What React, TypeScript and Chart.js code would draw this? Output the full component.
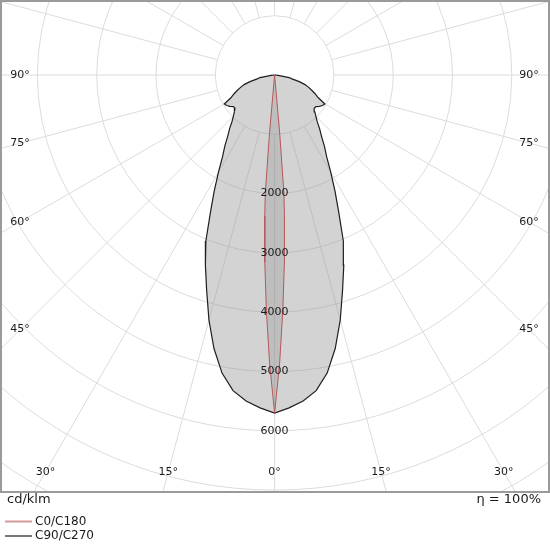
import React, { useEffect, useRef } from "react";
import { Chart, registerables } from "chart.js";

Chart.register(...registerables);

// ---- data ----
const seriesLabels = ["C0/C180", "C90/C270"];

const gammaC0 = [0, 1, 2, 3, 4, 4.5, 5, 5.5];
const intensityC0 = [5700, 4860, 3970, 3160, 2380, 2000, 1000, 0];

const gammaC90 = [
  0, 2.5, 5, 7.5, 10, 12.5, 15, 17.5, 20, 22.5, 25, 27.5, 30, 32.5, 35, 37.5, 40,
  42.5, 45, 47.5, 50, 52.5, 55, 57.5, 60, 62.5, 65, 67.5, 70, 72.5, 75, 77.5, 80,
  85, 90,
];
const intensityC90 = [
  5700, 5618, 5519, 5368, 5104, 4724, 4278, 3810, 3412, 3029, 2562, 2206, 1893,
  1633, 1464, 1298, 1180, 1062, 985, 920, 872, 876, 921, 958, 979, 831, 757, 683,
  611, 539, 430, 300, 250, 60, 0,
];

const ringValues = [1000, 2000, 3000, 4000, 5000, 6000, 7000, 8000, 9000, 10000];
const ringLabelValues = [2000, 3000, 4000, 5000, 6000];
const angleTickLabels = [0, 15, 30, 45, 60, 75, 90];
const rayStep = 15;
const unitLabel = "cd/klm";
const efficiencyLabel = "η = 100%";

const FONT = '"DejaVu Sans", Verdana, sans-serif';

function toShape(gammas: number[], values: number[]) {
  const pts: { x: number; y: number }[] = [];
  for (let i = gammas.length - 1; i >= 0; i--) {
    const g = (gammas[i] * Math.PI) / 180;
    pts.push({ x: -values[i] * Math.sin(g), y: -values[i] * Math.cos(g) });
  }
  for (let i = 1; i < gammas.length; i++) {
    const g = (gammas[i] * Math.PI) / 180;
    pts.push({ x: values[i] * Math.sin(g), y: -values[i] * Math.cos(g) });
  }
  return pts;
}

const polarGridPlugin = {
  id: "polarGrid",
  beforeDatasetsDraw(chart: any) {
    const { ctx, chartArea, scales } = chart;
    const cx = scales.x.getPixelForValue(0);
    const cy = scales.y.getPixelForValue(0);
    const k = scales.x.getPixelForValue(1000) - cx;
    ctx.save();
    ctx.beginPath();
    ctx.rect(chartArea.left, chartArea.top, chartArea.right - chartArea.left, chartArea.bottom - chartArea.top);
    ctx.clip();
    ctx.strokeStyle = "#dcdcdc";
    ctx.lineWidth = 1;
    for (const v of ringValues) {
      ctx.beginPath();
      ctx.arc(cx, cy, (v / 1000) * k, 0, Math.PI * 2);
      ctx.stroke();
    }
    const r0 = (ringValues[0] / 1000) * k;
    const r1 = 12 * k;
    for (let a = 0; a < 360; a += rayStep) {
      const t = (a * Math.PI) / 180;
      const sx = Math.sin(t);
      const sy = Math.cos(t);
      ctx.beginPath();
      ctx.moveTo(cx + r0 * sx, cy + r0 * sy);
      ctx.lineTo(cx + r1 * sx, cy + r1 * sy);
      ctx.stroke();
    }
    ctx.restore();
  },
};

const polarFillPlugin = {
  id: "polarFill",
  beforeDatasetDraw(chart: any, args: any) {
    const ds: any = chart.data.datasets[args.index];
    const pts = args.meta.data;
    if (!pts || !pts.length) return;
    const { ctx, chartArea } = chart;
    ctx.save();
    ctx.beginPath();
    ctx.rect(chartArea.left, chartArea.top, chartArea.right - chartArea.left, chartArea.bottom - chartArea.top);
    ctx.clip();
    ctx.beginPath();
    pts.forEach((p: any, i: number) => (i ? ctx.lineTo(p.x, p.y) : ctx.moveTo(p.x, p.y)));
    ctx.closePath();
    ctx.fillStyle = ds.shapeFill;
    ctx.fill();
    ctx.restore();
  },
};

const labelsPlugin = {
  id: "polarLabels",
  afterDatasetsDraw(chart: any) {
    const { ctx, chartArea, scales } = chart;
    const cx = scales.x.getPixelForValue(0);
    const cy = scales.y.getPixelForValue(0);
    const k = scales.x.getPixelForValue(1000) - cx;
    ctx.save();
    ctx.fillStyle = "#1a1a1a";
    ctx.font = `11px ${FONT}`;
    ctx.textAlign = "center";
    ctx.textBaseline = "middle";
    for (const v of ringLabelValues) {
      ctx.fillText(String(v), cx, cy + (v / 1000) * k);
    }
    const inL = chartArea.left + 19;
    const inR = chartArea.right - 20;
    const inB = chartArea.bottom - 20;
    for (const a of angleTickLabels) {
      const t = (a * Math.PI) / 180;
      const txt = `${a}°`;
      if (a === 0) {
        ctx.fillText(txt, cx, inB);
        continue;
      }
      for (const side of [-1, 1]) {
        const half = side < 0 ? cx - inL : inR - cx;
        let x = cx + side * half;
        let y = cy + half / Math.tan(t);
        if (y > inB) {
          y = inB;
          x = cx + side * (inB - cy) * Math.tan(t);
        }
        ctx.fillText(txt, x, y);
      }
    }
    ctx.restore();
  },
  afterDraw(chart: any) {
    const { ctx, chartArea } = chart;
    ctx.save();
    ctx.strokeStyle = "#9a9a9a";
    ctx.lineWidth = 2;
    ctx.strokeRect(chartArea.left, chartArea.top, chartArea.right - chartArea.left, chartArea.bottom - chartArea.top);
    ctx.fillStyle = "#1a1a1a";
    ctx.font = `13px ${FONT}`;
    ctx.textBaseline = "middle";
    ctx.textAlign = "left";
    ctx.fillText(unitLabel, 7, 500);
    ctx.textAlign = "right";
    ctx.fillText(efficiencyLabel, 541, 500);
    // legend
    ctx.textAlign = "left";
    ctx.font = `12px ${FONT}`;
    chart.data.datasets.forEach((ds: any, i: number) => {
      const y = 521.5 + i * 14.5;
      ctx.save();
      ctx.globalAlpha = 0.6;
      ctx.strokeStyle = ds.borderColor;
      ctx.lineWidth = 2;
      ctx.beginPath();
      ctx.moveTo(5, y);
      ctx.lineTo(32, y);
      ctx.stroke();
      ctx.restore();
      ctx.fillStyle = "#1a1a1a";
      ctx.fillText(ds.label, 35, y);
    });
    ctx.restore();
  },
};

export default function App() {
  const ref = useRef<HTMLCanvasElement>(null);
  useEffect(() => {
    document.body.style.margin = "0";
    const canvas = ref.current;
    if (!canvas) return;
    const pxPerK = 59.3;
    const left = 1, top = 1, right = 549, bottom = 492;
    const cxPix = 274.6, cyPix = 75;
    const xMin = -((cxPix - left) / pxPerK) * 1000;
    const xMax = ((right - cxPix) / pxPerK) * 1000;
    const yMax = ((cyPix - top) / pxPerK) * 1000;
    const yMin = -((bottom - cyPix) / pxPerK) * 1000;
    const chart = new Chart(canvas, {
      type: "scatter",
      data: {
        datasets: [
          {
            label: seriesLabels[0],
            data: toShape(gammaC0, intensityC0),
            showLine: true,
            borderColor: "rgb(180,88,88)",
            borderWidth: 1,
            pointRadius: 0,
            tension: 0,
            shapeFill: "rgba(140,140,140,0.30)",
          } as any,
          {
            label: seriesLabels[1],
            data: toShape(gammaC90, intensityC90),
            showLine: true,
            borderColor: "#1e1e1e",
            borderWidth: 1.2,
            pointRadius: 0,
            tension: 0,
            shapeFill: "rgba(150,150,150,0.42)",
          } as any,
        ],
      },
      options: {
        animation: false,
        responsive: false,
        devicePixelRatio: 1,
        layout: { padding: { left: left, top: top, right: 550 - right, bottom: 550 - bottom } },
        scales: {
          x: { type: "linear", min: xMin, max: xMax, display: false },
          y: { type: "linear", min: yMin, max: yMax, display: false },
        },
        plugins: {
          legend: { display: false },
          tooltip: { enabled: false },
        },
      },
      plugins: [polarGridPlugin, polarFillPlugin, labelsPlugin],
    });
    return () => chart.destroy();
  }, []);
  return <canvas ref={ref} width={550} height={550} style={{ display: "block" }} />;
}
